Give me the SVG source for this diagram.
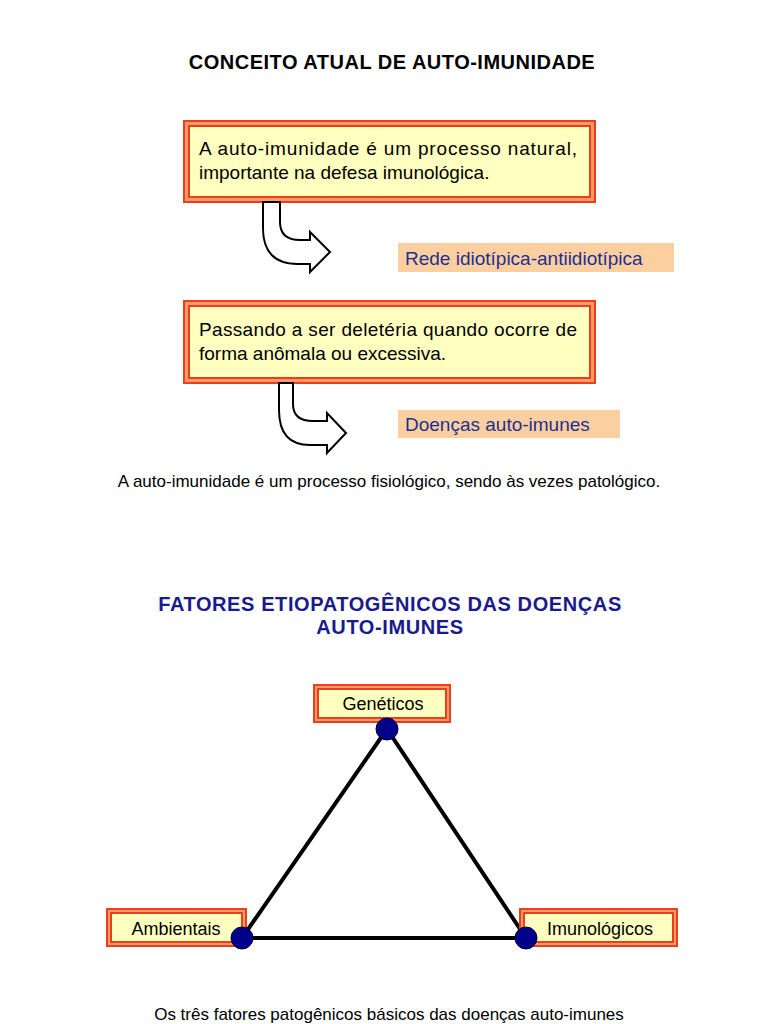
<svg xmlns="http://www.w3.org/2000/svg" width="768" height="1024" viewBox="0 0 768 1024">
<style>
text{font-family:"Liberation Sans",Arial,sans-serif}
.bo{fill:#ff9966;stroke:#e8401c;stroke-width:2}
.bi{fill:#ffffc0;stroke:#e8401c;stroke-width:2}
.t{font-size:19px;fill:#000}
.lb{fill:#fbcf9f}
.bl{font-size:19px;fill:#1f2f8f}
.nl{font-size:18px}
.arr{fill:#fff;stroke:#000;stroke-width:2}
.dot{fill:#00008b;stroke:#000033;stroke-width:1}
</style>
<rect width="768" height="1024" fill="#fff"/>
<text x="392" y="69" text-anchor="middle" font-size="20" font-weight="bold" letter-spacing="0.5">CONCEITO ATUAL DE AUTO-IMUNIDADE</text>
<g id="box1"><rect class="bo" x="184" y="121" width="411" height="81"/><rect class="bi" x="189" y="126" width="401" height="71"/>
<text class="t" x="199" y="155" textLength="378" lengthAdjust="spacing">A auto-imunidade é um processo natural,</text><text class="t" x="199" y="179">importante na defesa imunológica.</text></g>
<g id="rede"><rect class="lb" x="398" y="243" width="276" height="29"/><text class="bl" x="405" y="265">Rede idiotípica-antiidiotípica</text></g>
<g id="box2"><rect class="bo" x="184" y="301" width="411" height="82"/><rect class="bi" x="189" y="306" width="401" height="72"/>
<text class="t" x="199" y="336" textLength="378" lengthAdjust="spacing">Passando a ser deletéria quando ocorre de</text><text class="t" x="199" y="360">forma anômala ou excessiva.</text></g>
<g id="doencas"><rect class="lb" x="398" y="410" width="222" height="28"/><text class="bl" x="405" y="431">Doenças auto-imunes</text></g>
<g id="connectors">
<path class="arr" d="M263,202 L280,202 L280,222 Q280,240 300,240 L310,240 L310,232 L330,252 L310,272 L310,264 L298,264 Q263,264 263,228 Z"/>
<path class="arr" d="M279,383 L293,383 L293,404 Q293,421 313,421 L327,421 L327,413 L346,433 L327,453 L327,445 L310,445 Q279,445 279,410 Z"/>
<polygon points="387,729 242,938 526,938" fill="none" stroke="#000" stroke-width="4" stroke-linejoin="round"/>
</g>
<text x="389" y="487" text-anchor="middle" font-size="17">A auto-imunidade é um processo fisiológico, sendo às vezes patológico.</text>
<text x="390" y="611" text-anchor="middle" font-size="20" font-weight="bold" fill="#1a1a8c" letter-spacing="0.6">FATORES ETIOPATOGÊNICOS DAS DOENÇAS</text>
<text x="390" y="634" text-anchor="middle" font-size="20" font-weight="bold" fill="#1a1a8c" letter-spacing="0.6">AUTO-IMUNES</text>
<g id="geneticos"><rect class="bo" x="314" y="685" width="136" height="37"/><rect class="bi" x="318" y="689" width="128" height="29"/><text class="nl" x="383" y="710" text-anchor="middle">Genéticos</text></g>
<g id="ambientais"><rect class="bo" x="107" y="909" width="139" height="37"/><rect class="bi" x="111" y="913" width="131" height="29"/><text class="nl" x="176" y="935" text-anchor="middle">Ambientais</text></g>
<g id="imunologicos"><rect class="bo" x="520" y="909" width="157" height="37"/><rect class="bi" x="524" y="913" width="149" height="29"/><text class="nl" x="600" y="935" text-anchor="middle">Imunológicos</text></g>
<circle class="dot" cx="387" cy="729" r="11"/><circle class="dot" cx="242" cy="938" r="11"/><circle class="dot" cx="526" cy="938" r="11"/>
<text x="389" y="1020" text-anchor="middle" font-size="17">Os três fatores patogênicos básicos das doenças auto-imunes</text>
</svg>
